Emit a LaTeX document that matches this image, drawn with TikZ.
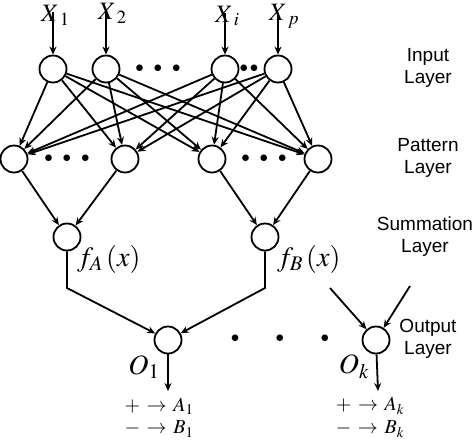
\documentclass[tikz,border=0pt]{standalone}
\usepackage{mathptmx}
\usepackage{fontspec}
\newfontfamily\labfont{Liberation Sans}
\usetikzlibrary{arrows.meta}
\tikzset{
  neuron/.style={circle,draw,line width=1.8pt,minimum size=27pt,inner sep=0pt},
  conn/.style={line width=1.8pt,-{Stealth[length=8pt,width=7pt]}},
  dotnode/.style={inner sep=0pt,font=\fontsize{17}{17}\selectfont},
  layerlab/.style={font=\labfont\fontsize{19}{22}\selectfont,align=center},
  xlab/.style={font=\fontsize{25}{25}\selectfont,anchor=west,inner sep=0pt},
  flab/.style={font=\fontsize{28}{28}\selectfont,anchor=west,inner sep=0pt},
  olab/.style={font=\fontsize{28}{28}\selectfont,inner sep=0pt},
  rlab/.style={font=\fontsize{20}{20}\selectfont,inner sep=0pt}
}
\begin{document}
\begin{tikzpicture}[x=1pt,y=-1pt]
\useasboundingbox (0,0) rectangle (474,440);
% input layer
\node[neuron] (i1) at (53,69) {};
\node[neuron] (i2) at (106,69) {};
\node[neuron] (i3) at (225,69) {};
\node[neuron] (i4) at (278,69) {};
% X labels
\node[xlab] (x1) at (41,15) {$X_{\;1}$};
\node[xlab] (x2) at (98,13) {$X_{\;2}$};
\node[xlab] (x3) at (215,16) {$X_{\;i}$};
\node[xlab] (x4) at (269,16) {$X_{\;p}$};
\coordinate (t1) at (53,12);
\coordinate (t2) at (106,10);
\coordinate (t3) at (225,13);
\coordinate (t4) at (278,13);
\foreach \k in {1,2,3,4} \draw[conn] (t\k) -- (i\k);
% dots input layer
\node[dotnode] (d1) at (158,69) {$\bullet\;\;\bullet\;\;\bullet$};
\node[dotnode] (d2) at (249,69) {$\bullet\,\bullet$};
% pattern layer
\node[neuron] (p1) at (14,159) {};
\node[neuron] (p2) at (125,159) {};
\node[neuron] (p3) at (212,159) {};
\node[neuron] (p4) at (318,159) {};
\node[dotnode] (d3) at (67,159) {$\bullet\;\;\bullet\;\;\bullet$};
\node[dotnode] (d4) at (264,159) {$\bullet\;\;\bullet\;\;\bullet$};
\foreach \a in {1,2,3,4}
  \foreach \b in {1,2,3,4}
    \draw[conn] (i\a) -- (p\b);
% summation layer
\node[neuron] (sA) at (67,237) {};
\node[neuron] (sB) at (265,237) {};
\draw[conn] (p1) -- (sA);
\draw[conn] (p2) -- (sA);
\draw[conn] (p3) -- (sB);
\draw[conn] (p4) -- (sB);
\node[flab] (fA) at (77,259) {$f_{A}\,(x)$};
\node[flab] (fB) at (277,259) {$f_{B}\,(x)$};
% output layer
\node[neuron] (O1) at (168,340) {};
\node[neuron] (Ok) at (376,340) {};
\coordinate (cA) at (67,288);
\coordinate (cB) at (265,288);
\draw[conn] (sA) -- (cA) -- (O1);
\draw[conn] (sB) -- (cB) -- (O1);
\coordinate (k1) at (330,288);
\coordinate (k2) at (410,286);
\draw[conn] (k1) -- (Ok);
\draw[conn] (k2) -- (Ok);
\node[dotnode] (d5) at (280,339) {$\bullet\qquad\bullet\qquad\bullet$};
\node[olab] (o1lab) at (144,367) {$O_{1}$};
\node[olab] (oklab) at (354,367) {$O_{k}$};
\coordinate (e1) at (168,391);
\coordinate (ek) at (378,391);
\draw[conn] (O1) -- (e1);
\draw[conn] (Ok) -- (ek);
\node[rlab] (r1) at (159,406) {$+\,\rightarrow\,A_{1}$};
\node[rlab] (r2) at (159,429) {$-\,\rightarrow\,B_{1}$};
\node[rlab] (r3) at (370,406) {$+\,\rightarrow\,A_{k}$};
\node[rlab] (r4) at (370,429) {$-\,\rightarrow\,B_{k}$};
% layer labels
\node[layerlab] (L1) at (428,68) {Input\\Layer};
\node[layerlab] (L2) at (428,158) {Pattern\\Layer};
\node[layerlab] (L3) at (425,237) {Summation\\Layer};
\node[layerlab] (L4) at (428,339) {Output\\Layer};
\end{tikzpicture}
\end{document}
